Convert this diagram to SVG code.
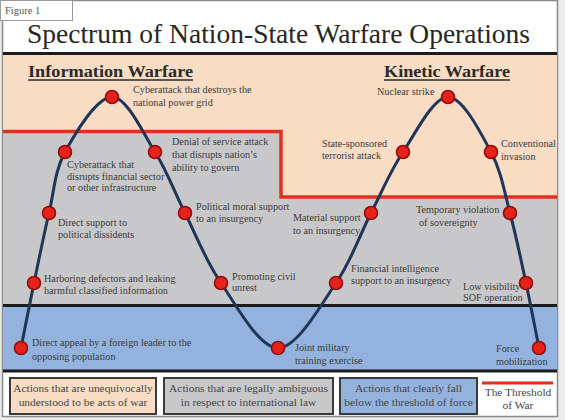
<svg xmlns="http://www.w3.org/2000/svg" width="565" height="420" viewBox="0 0 565 420">
<style>
.lbl{font-family:"Liberation Serif","Times New Roman",serif;font-size:10.2px;fill:#3a3a3a}
.dot{fill:#e5231b;stroke:#8e0f0f;stroke-width:1.6}
.head{font-family:"Liberation Serif","Times New Roman",serif;font-size:17.5px;font-weight:bold;fill:#2a2a2a}
.leg{font-family:"Liberation Serif","Times New Roman",serif;font-size:11.4px;fill:#454545;text-anchor:middle}
.legbox{stroke:#3a3a3a;stroke-width:2}
</style>
<rect x="0" y="0" width="565" height="420" fill="#ececec"/>
<rect x="2.5" y="0.5" width="555" height="416" fill="#ffffff" stroke="#8a8a8a" stroke-width="1.5"/>
<g id="figure-tag">
<rect x="0.5" y="0.5" width="72" height="20" fill="#ffffff" stroke="#9a9a9a" stroke-width="1"/>
<text x="5" y="14" style="font-family:'Liberation Serif',serif;font-size:10.5px;fill:#555">Figure 1</text>
</g>
<text x="278.5" y="43" text-anchor="middle" textLength="503" lengthAdjust="spacingAndGlyphs" style="font-family:'Liberation Serif','Times New Roman',serif;font-size:27px;fill:#262626">Spectrum of Nation-State Warfare Operations</text>
<g id="bands">
<rect x="3" y="55" width="554" height="250" fill="#f9dcc4"/>
<polygon points="3,131.5 281,131.5 281,197 557,197 557,305 3,305" fill="#c8c8ca"/>
<rect x="3" y="305" width="554" height="66" fill="#93b3de"/>
<line x1="3" y1="53.5" x2="557" y2="53.5" stroke="#1c1c1c" stroke-width="3"/>
<line x1="3" y1="305.5" x2="557" y2="305.5" stroke="#1c1c1c" stroke-width="3"/>
<line x1="3" y1="371" x2="557" y2="371" stroke="#1c1c1c" stroke-width="3"/>
<polyline points="3,131.5 281,131.5 281,197 557,197" fill="none" stroke="#e0301f" stroke-width="3.5"/>
</g>
<g id="headings">
<text class="head" x="28" y="77" textLength="165" lengthAdjust="spacingAndGlyphs">Information Warfare</text>
<line x1="28" y1="80" x2="193" y2="80" stroke="#2a2a2a" stroke-width="1.3"/>
<text class="head" x="384" y="77" textLength="126" lengthAdjust="spacingAndGlyphs">Kinetic Warfare</text>
<line x1="384" y1="80" x2="510" y2="80" stroke="#2a2a2a" stroke-width="1.3"/>
</g>
<g id="connectors">
<path d="M21,348 C25.3,326.3 29.3,305.5 34,283 C38.7,260.5 43.8,234.8 49,213 C54.2,191.2 54.5,171.3 65,152 C75.5,132.7 97,97 112,97 C127,97 142.8,132.7 155,152 C167.2,171.3 174,191.2 185,213 C196,234.8 205.5,260.5 221,283 C236.5,305.5 258.8,348 278,348 C297.2,348 320.5,305.5 336,283 C351.5,260.5 359.8,234.8 371,213 C382.2,191.2 390.2,171.3 403,152 C415.8,132.7 433.3,97 448,97 C462.7,97 480.7,132.7 491,152 C501.3,171.3 504.2,191.2 510,213 C515.8,234.8 521.2,260.5 526,283 C530.8,305.5 534.7,326.3 539,348" fill="none" stroke="#1f3658" stroke-width="3"/>
</g>
<g id="n-direct-appeal"><circle class="dot" cx="21" cy="348" r="6.5"/><text class="lbl" x="32" y="346">Direct appeal by a foreign leader to the</text><text class="lbl" x="32" y="360">opposing population</text></g>
<g id="n-harboring"><circle class="dot" cx="34" cy="283" r="6.5"/><text class="lbl" x="44" y="282">Harboring defectors and leaking</text><text class="lbl" x="44" y="294">harmful classified  information</text></g>
<g id="n-direct-support"><circle class="dot" cx="49" cy="213" r="6.5"/><text class="lbl" x="58" y="226">Direct support to</text><text class="lbl" x="58" y="238">political  dissidents</text></g>
<g id="n-cyber-financial"><circle class="dot" cx="65" cy="152" r="6.5"/><text class="lbl" x="67" y="167.5">Cyberattack that</text><text class="lbl" x="67" y="180">disrupts financial sector</text><text class="lbl" x="67" y="191">or other infrastructure</text></g>
<g id="n-cyber-grid"><circle class="dot" cx="112" cy="97" r="6.5"/><text class="lbl" x="133" y="93">Cyberattack that destroys the</text><text class="lbl" x="133" y="106">national power grid</text></g>
<g id="n-denial"><circle class="dot" cx="155" cy="152" r="6.5"/><text class="lbl" x="172" y="145">Denial of service attack</text><text class="lbl" x="172" y="158">that disrupts nation’s</text><text class="lbl" x="172" y="171">ability to govern</text></g>
<g id="n-political"><circle class="dot" cx="185" cy="213" r="6.5"/><text class="lbl" x="196" y="210">Political moral support</text><text class="lbl" x="196" y="222">to an insurgency</text></g>
<g id="n-promoting"><circle class="dot" cx="221" cy="283" r="6.5"/><text class="lbl" x="232" y="280">Promoting civil</text><text class="lbl" x="232" y="291">unrest</text></g>
<g id="n-joint"><circle class="dot" cx="278" cy="348" r="6.5"/><text class="lbl" x="295" y="351">Joint military</text><text class="lbl" x="295" y="364">training  exercise</text></g>
<g id="n-financial-intel"><circle class="dot" cx="336" cy="283" r="6.5"/><text class="lbl" x="351" y="272">Financial intelligence</text><text class="lbl" x="351" y="284">support  to an insurgency</text></g>
<g id="n-material"><circle class="dot" cx="371" cy="213" r="6.5"/><text class="lbl" x="293" y="221">Material support</text><text class="lbl" x="293" y="234">to an insurgency</text></g>
<g id="n-state-sponsored"><circle class="dot" cx="403" cy="152" r="6.5"/><text class="lbl" x="322" y="147">State-sponsored</text><text class="lbl" x="322" y="159">terrorist attack</text></g>
<g id="n-nuclear"><circle class="dot" cx="448" cy="97" r="6.5"/><text class="lbl" x="377" y="95">Nuclear strike</text></g>
<g id="n-conventional"><circle class="dot" cx="491" cy="152" r="6.5"/><text class="lbl" x="501" y="147">Conventional</text><text class="lbl" x="501" y="160">invasion</text></g>
<g id="n-temporary"><circle class="dot" cx="510" cy="213" r="6.5"/><text class="lbl" x="416" y="212.5">Temporary violation</text><text class="lbl" x="419" y="225.5">of sovereignty</text></g>
<g id="n-low-visibility"><circle class="dot" cx="526" cy="283" r="6.5"/><text class="lbl" x="463" y="290">Low visibility</text><text class="lbl" x="463" y="301">SOF operation</text></g>
<g id="n-force"><circle class="dot" cx="539" cy="348" r="6.5"/><text class="lbl" x="496" y="352">Force</text><text class="lbl" x="496" y="365">mobilization</text></g>
<g id="legend">
<g id="legend-war"><rect class="legbox" x="10" y="378" width="146" height="36" fill="#f9dcc4"/><text class="leg" x="83" y="392">Actions that are unequivocally</text><text class="leg" x="83" y="405.5">understood to be acts of war</text></g>
<g id="legend-ambiguous"><rect class="legbox" x="164" y="378" width="169" height="36" fill="#c8c8ca"/><text class="leg" x="248.5" y="392">Actions that are legally ambiguous</text><text class="leg" x="248.5" y="405.5">in respect to international law</text></g>
<g id="legend-below"><rect class="legbox" x="340" y="378" width="137" height="36" fill="#93b3de"/><text class="leg" x="408.5" y="392">Actions that clearly fall</text><text class="leg" x="408.5" y="405.5">below the threshold of force</text></g>
<g id="legend-threshold"><line x1="482" y1="383" x2="553" y2="383" stroke="#e0301f" stroke-width="3"/><text class="leg" x="518" y="396">The Threshold</text><text class="leg" x="518" y="409">of War</text></g>
</g>
</svg>
